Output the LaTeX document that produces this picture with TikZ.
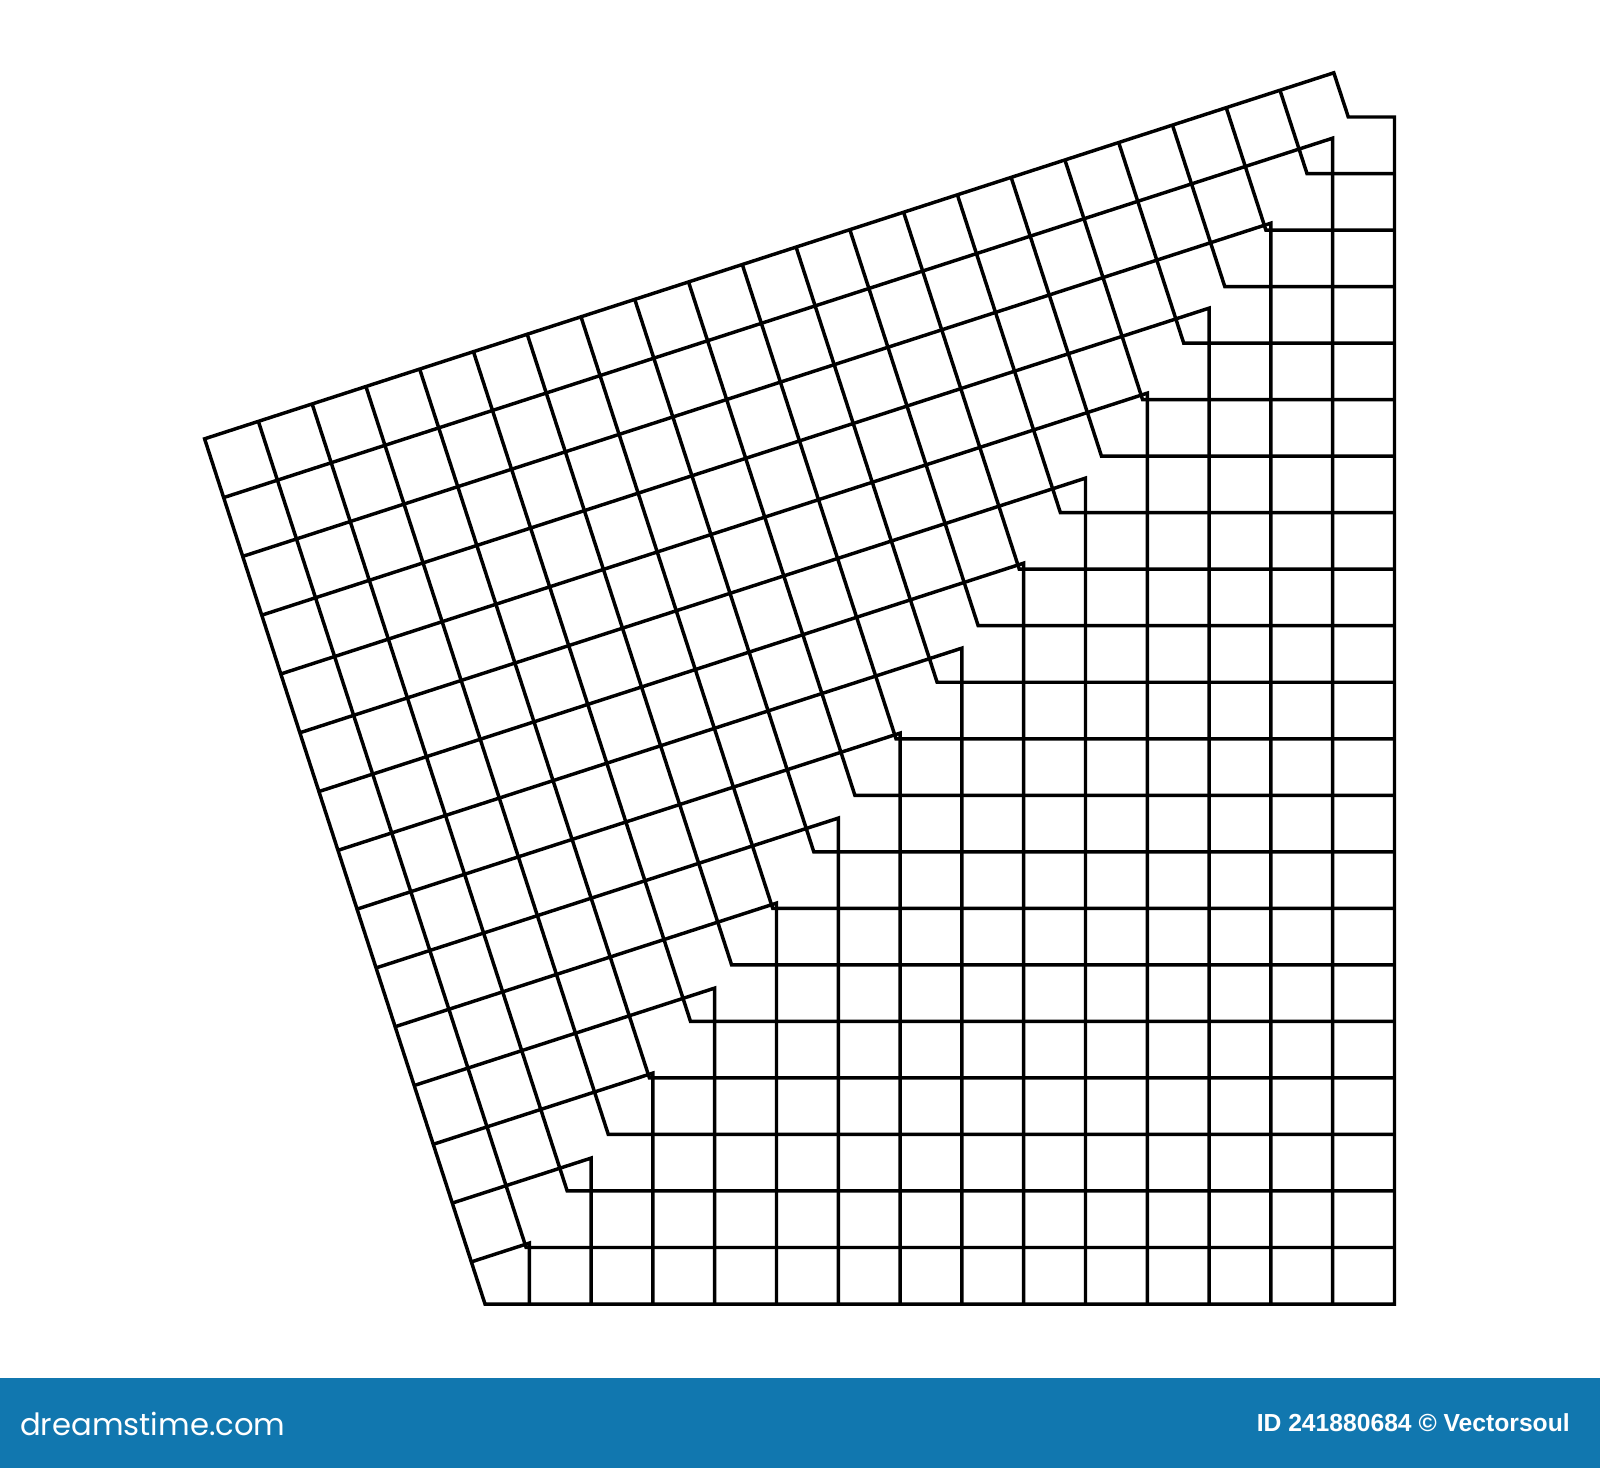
\documentclass[tikz,border=0pt]{standalone}
\usepackage{fontspec}
\newfontfamily\idfont{Liberation Sans}
\newfontfamily\logofont{Poppins}
\tikzset{gridline/.style={color={rgb, 255:red, 0; green, 0; blue, 0 }, draw opacity=1, line width=2.6pt}}

\begin{document}
\begin{tikzpicture}[x=0.75pt,y=0.75pt,yscale=-1,xscale=1]
%set diagram left start at 0, and has height of 1468
\useasboundingbox (0,0) rectangle (1600,1468);

%grid values: right edge, top, bottom, foot of the fold line
\def\xR{1394.5}
\def\yT{117}
\def\yB{1304}
\def\fx{485}

%Shape: Outline [id:outer]
\draw [gridline] (1333.8,72.8) -- (1348.3,117) -- (\xR,\yT) -- (\xR,\yB) -- (\fx,\yB) -- (204.6,438.8) -- cycle ;

%Straight Lines: rows, bent at the fold
\foreach \k in {1,...,20}{
  \pgfmathsetmacro\yk{\yT+\k*56.5238}
  \pgfmathsetmacro\ck{\fx+(\yB-\yk)*0.72711}
  \pgfmathsetmacro\lk{\xR-\ck}
  \draw [gridline] ({\ck-0.30830*\lk},{\yk-0.95129*\lk}) -- (\ck,\yk) -- (\xR,\yk) ;
}

%Straight Lines: columns, bent at the fold
\foreach \j in {0,...,13}{
  \pgfmathsetmacro\xj{\xR-(14-\j)*61.8}
  \pgfmathsetmacro\dj{\yB-(\xj-\fx)*1.37531}
  \pgfmathsetmacro\lj{\yB-\dj}
  \draw [gridline] ({\xj-0.95129*\lj},{\dj+0.30831*\lj}) -- (\xj,\dj) -- (\xj,\yB) ;
}

%Shape: Rectangle [id:bar]
\fill [color={rgb, 255:red, 17; green, 119; blue, 175 }] (0,1378) rectangle (1600,1468) ;

% Text Node
\node [anchor=base west, inner sep=0, text=white, font=\logofont\fontsize{23}{25}\selectfont] (logotext) at (20,1435) {dreamstime.com};
% Text Node
\node [anchor=base east, inner sep=0, text=white, font=\idfont\bfseries\fontsize{18.5}{20}\selectfont] (idtext) at (1570,1431.7) {ID 241880684 © Vectorsoul};

\end{tikzpicture}
\end{document}
